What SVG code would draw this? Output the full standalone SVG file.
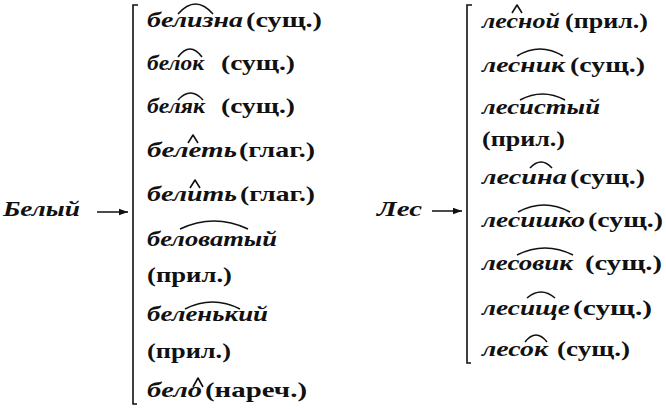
<svg xmlns="http://www.w3.org/2000/svg" width="666" height="409" viewBox="0 0 666 409">
<defs>
<marker id="ah" markerWidth="10" markerHeight="8" refX="9" refY="4" orient="auto" markerUnits="userSpaceOnUse">
<path d="M0,0.8 L9,4 L0,7.2 Z" fill="#111"/>
</marker>
</defs>
<style>
text{font-size:21px;font-weight:bold;fill:#111}
.w{font-style:italic}
.br{fill:none;stroke:#111;stroke-width:1.6}
.arc{fill:none;stroke:#111;stroke-width:1.6;stroke-linejoin:round}
.con{stroke:#111;stroke-width:1.5;fill:none}
</style>
<rect width="666" height="409" fill="#fff"/>
<g font-family="Liberation Serif, Times New Roman, serif">
<g id="root-belyi"><text class="w" x="3" y="216" textLength="77" lengthAdjust="spacingAndGlyphs">Белый</text></g>
<g id="root-les"><text class="w" x="377" y="216" textLength="45" lengthAdjust="spacingAndGlyphs">Лес</text></g>

<g id="connectors">
<line class="con" x1="97" y1="212" x2="128" y2="212" marker-end="url(#ah)"/>
<line class="con" x1="432" y1="211" x2="462" y2="211" marker-end="url(#ah)"/>
<path class="br" d="M138,5 H133 V404 H137"/>
<path class="br" d="M472,5 H467 V363 H471"/>
</g>

<g id="belizna">
<text class="w" x="147" y="27" textLength="96" lengthAdjust="spacingAndGlyphs">белизна</text>
<text class="p" x="246" y="27" textLength="76" lengthAdjust="spacingAndGlyphs">(сущ.)</text>
<path class="arc" d="M178,14 Q195.5,-6 213,14"/>
</g>
<g id="belok">
<text class="w" x="147" y="70" textLength="57" lengthAdjust="spacingAndGlyphs">белок</text>
<text class="p" x="221" y="70" textLength="74" lengthAdjust="spacingAndGlyphs">(сущ.)</text>
<path class="arc" d="M178,57 Q190,41 202,57"/>
</g>
<g id="belyak">
<text class="w" x="147" y="113" textLength="58" lengthAdjust="spacingAndGlyphs">беляк</text>
<text class="p" x="221" y="113" textLength="74" lengthAdjust="spacingAndGlyphs">(сущ.)</text>
<path class="arc" d="M178,100 Q190.5,86 203,100"/>
</g>
<g id="belet">
<text class="w" x="147" y="157" textLength="90" lengthAdjust="spacingAndGlyphs">белеть</text>
<text class="p" x="239" y="157" textLength="76" lengthAdjust="spacingAndGlyphs">(глаг.)</text>
<path class="arc" d="M188,143 L193,135 L198,143"/>
</g>
<g id="belit">
<text class="w" x="147" y="201" textLength="90" lengthAdjust="spacingAndGlyphs">белить</text>
<text class="p" x="240" y="201" textLength="75" lengthAdjust="spacingAndGlyphs">(глаг.)</text>
<path class="arc" d="M190,188 L195,180 L200,188"/>
</g>
<g id="belovatyi">
<text class="w" x="147" y="246" textLength="130" lengthAdjust="spacingAndGlyphs">беловатый</text>
<text class="p" x="147" y="282" textLength="85" lengthAdjust="spacingAndGlyphs">(прил.)</text>
<path class="arc" d="M180,229 Q214,213 248,229"/>
</g>
<g id="belenkii">
<text class="w" x="147" y="321" textLength="121" lengthAdjust="spacingAndGlyphs">беленький</text>
<text class="p" x="147" y="358" textLength="84" lengthAdjust="spacingAndGlyphs">(прил.)</text>
<path class="arc" d="M185,309 Q212.5,295 240,309"/>
</g>
<g id="belo">
<text class="w" x="147" y="397" textLength="55" lengthAdjust="spacingAndGlyphs">бело</text>
<text class="p" x="205" y="397" textLength="102" lengthAdjust="spacingAndGlyphs">(нареч.)</text>
<path class="arc" d="M193,387 L198,378 L203,387"/>
</g>

<g id="lesnoi">
<text class="w" x="482" y="28" textLength="78" lengthAdjust="spacingAndGlyphs">лесной</text>
<text class="p" x="565" y="28" textLength="83" lengthAdjust="spacingAndGlyphs">(прил.)</text>
<path class="arc" d="M512,13 L517,5 L522,13"/>
</g>
<g id="lesnik">
<text class="w" x="482" y="72" textLength="83" lengthAdjust="spacingAndGlyphs">лесник</text>
<text class="p" x="570" y="72" textLength="75" lengthAdjust="spacingAndGlyphs">(сущ.)</text>
<path class="arc" d="M517,56 Q540,42 563,56"/>
</g>
<g id="lesistyi">
<text class="w" x="482" y="114" textLength="118" lengthAdjust="spacingAndGlyphs">лесистый</text>
<text class="p" x="482" y="146" textLength="83" lengthAdjust="spacingAndGlyphs">(прил.)</text>
<path class="arc" d="M520,100 Q542.5,88 565,100"/>
</g>
<g id="lesina">
<text class="w" x="482" y="184" textLength="85" lengthAdjust="spacingAndGlyphs">лесина</text>
<text class="p" x="570" y="184" textLength="75" lengthAdjust="spacingAndGlyphs">(сущ.)</text>
<path class="arc" d="M530,168 Q541,156 552,168"/>
</g>
<g id="lesishko">
<text class="w" x="482" y="227" textLength="103" lengthAdjust="spacingAndGlyphs">лесишко</text>
<text class="p" x="588" y="227" textLength="75" lengthAdjust="spacingAndGlyphs">(сущ.)</text>
<path class="arc" d="M518,212 Q544,198 570,212"/>
</g>
<g id="lesovik">
<text class="w" x="482" y="270" textLength="91" lengthAdjust="spacingAndGlyphs">лесовик</text>
<text class="p" x="585" y="270" textLength="77" lengthAdjust="spacingAndGlyphs">(сущ.)</text>
<path class="arc" d="M517,255 Q545,241 573,255"/>
</g>
<g id="lesishche">
<text class="w" x="482" y="315" textLength="88" lengthAdjust="spacingAndGlyphs">лесище</text>
<text class="p" x="573" y="315" textLength="79" lengthAdjust="spacingAndGlyphs">(сущ.)</text>
<path class="arc" d="M527,298 Q541,286 555,298"/>
</g>
<g id="lesok">
<text class="w" x="482" y="356" textLength="66" lengthAdjust="spacingAndGlyphs">лесок</text>
<text class="p" x="557" y="356" textLength="73" lengthAdjust="spacingAndGlyphs">(сущ.)</text>
<path class="arc" d="M525,342 Q536,328 547,342"/>
</g>
</g>
</svg>
